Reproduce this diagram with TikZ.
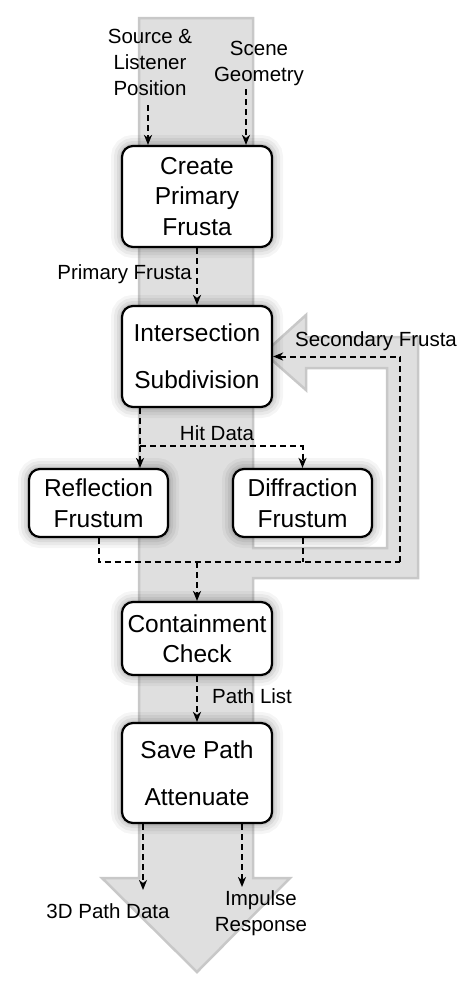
\documentclass[tikz,border=0pt]{standalone}
\usepackage{fontspec}
\setmainfont{Liberation Sans}
\usetikzlibrary{arrows.meta}
\definecolor{bandfill}{RGB}{223,223,223}
\definecolor{bandedge}{RGB}{200,200,200}
\tikzset{
  box/.style={draw=black, line width=2.2pt, rounded corners=11pt, fill=white,
    align=center, inner sep=0pt, font=\fontsize{24.5}{30.5}\selectfont,
    preaction={draw=black, draw opacity=0.04, line width=22pt},
    preaction={draw=black, draw opacity=0.05, line width=16pt},
    preaction={draw=black, draw opacity=0.06, line width=10pt},
    preaction={draw=black, draw opacity=0.08, line width=5pt}},
  lbl/.style={align=center, inner sep=0pt, font=\fontsize{20.5}{26}\selectfont},
  dl/.style={line width=2pt, dash pattern=on 6pt off 4pt},
  arr/.style={dl, -{Stealth[length=10pt,width=8pt,inset=3pt]}},
  band/.style={fill=bandfill, draw=bandedge, line width=2.5pt, line join=miter}
}
\begin{document}
\begin{tikzpicture}[x=1pt,y=-1pt]
\useasboundingbox (0,0) rectangle (474,991);
% gray flow band with feedback loop
\path[band] (139,18) -- (253,18) -- (253,548) -- (387,548) -- (387,368) -- (306,368)
  -- (306,390) -- (264,353) -- (306,315) -- (306,337) -- (418,337) -- (418,578)
  -- (253,578) -- (253,878) -- (290,878) -- (197,972) -- (102,878) -- (139,878) -- cycle;

% boxes
\node[box, minimum width=150pt, minimum height=101pt] (create) at (197,196.5) {Create\\Primary\\Frusta};
\node[box, minimum width=150pt, minimum height=101pt, font=\fontsize{24.5}{47}\selectfont] (inter) at (197,356.5) {Intersection\\Subdivision};
\node[box, minimum width=139pt, minimum height=68pt] (refl) at (98.5,503) {Reflection\\Frustum};
\node[box, minimum width=139pt, minimum height=68pt] (diff) at (302.5,503) {Diffraction\\Frustum};
\node[box, minimum width=150pt, minimum height=73pt] (cont) at (197,638.5) {Containment\\Check};
\node[box, minimum width=150pt, minimum height=100pt, font=\fontsize{24.5}{47}\selectfont] (save) at (197,773) {Save Path\\Attenuate};

% labels
\node[lbl] (src) at (150,62) {Source \&\\Listener\\Position};
\node[lbl] (scene) at (259,63) {Scene\\Geometry};
\node[lbl, anchor=east] (pf) at (192,274) {Primary Frusta};
\node[lbl] (hit) at (217,433) {Hit Data};
\node[lbl] (sec) at (376,341) {Secondary Frusta};
\node[lbl, anchor=west] (pl) at (212,696) {Path List};
\node[lbl] (out1) at (108,911) {3D Path Data};
\node[lbl] (out2) at (261,913) {Impulse\\Response};

% coordinates
\coordinate (s1) at (148,105);
\coordinate (s2) at (246,89);
\coordinate (hs) at (140,446);
\coordinate (fb) at (400,562);
\coordinate (o1) at (143,890);
\coordinate (o2) at (242,887);

% connectors
\draw[arr] (s1) -- (s1 |- create.north);
\draw[arr] (s2) -- (s2 |- create.north);
\draw[arr] (create.south) -- (inter.north);
\draw[dl] (inter.south -| hs) -- (hs);
\draw[arr] (hs) -- (refl.north -| hs);
\draw[arr] (hs) -| (diff.north);
\draw[dl] (refl.south) |- (fb);
\draw[dl] (diff.south) -- (diff.south |- fb);
\draw[arr] (fb) |- (inter.east);
\draw[arr] (cont.north |- fb) -- (cont.north);
\draw[arr] (cont.south) -- (save.north);
\draw[arr] (save.south -| o1) -- (o1);
\draw[arr] (save.south -| o2) -- (o2);
\end{tikzpicture}
\end{document}
